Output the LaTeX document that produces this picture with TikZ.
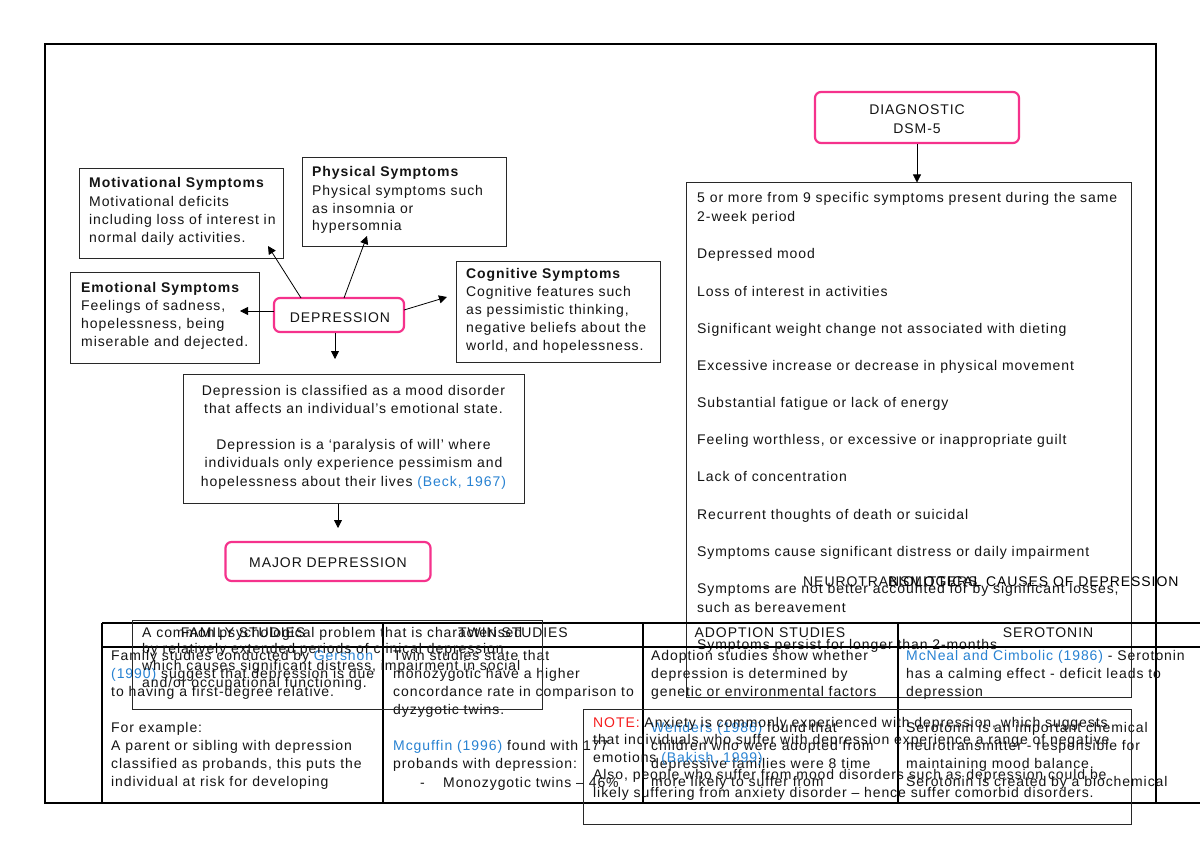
\documentclass[tikz,border=0pt]{standalone}
\usepackage{fontspec}
\setmainfont{Liberation Sans}[LetterSpace=6.6]
\usetikzlibrary{arrows.meta}
\definecolor{pinkc}{RGB}{245,50,140}
\definecolor{bluec}{RGB}{40,130,210}
\definecolor{redc}{RGB}{245,30,30}
\definecolor{txt}{RGB}{20,20,20}
\definecolor{edge}{RGB}{40,40,40}
\newcommand{\bl}[1]{\textcolor{bluec}{#1}}
\newcommand{\lft}[1]{\begin{tabular}[t]{@{}l@{}}#1\end{tabular}}
\newcommand{\ctr}[1]{\begin{tabular}[t]{@{}c@{}}#1\end{tabular}}
\tikzset{
  txl/.style={inner sep=0pt, anchor=base west, text=txt, font=\fontsize{14}{18.1}\selectfont},
  txc/.style={inner sep=0pt, anchor=base, text=txt, font=\fontsize{14}{18.1}\selectfont},
  plainbox/.style={draw=edge, line width=1pt, inner sep=0pt},
  pinkbox/.style={draw=pinkc, line width=2.2pt, rounded corners=6pt, inner sep=0pt},
  arr/.style={draw=black, line width=0.8pt, -{Triangle[length=8pt,width=8pt]}},
  tline/.style={draw=black, line width=1.8pt},
}
\begin{document}
\begin{tikzpicture}[x=1pt,y=-1pt]
\useasboundingbox (0,0) rectangle (1200,848);
\fill[white] (0,0) rectangle (1200,848);

% outer frame
\draw[line width=1.8pt] (45,44) rectangle (1156,803);

% ---------- left concept map ----------
\node[plainbox, minimum width=204, minimum height=89] (motbox) at (181,213.5) {};
\node[txl, font=\fontsize{14}{18.3}\selectfont] (mottx) at (89,188) {\lft{\textbf{Motivational Symptoms}\\Motivational deficits\\including loss of interest in\\normal daily activities.}};

\node[plainbox, minimum width=204, minimum height=89] (phybox) at (404,202) {};
\node[txl, font=\fontsize{14}{18}\selectfont] (phytx) at (312,177) {\lft{\textbf{Physical Symptoms}\\Physical symptoms such\\as insomnia or\\hypersomnia}};

\node[plainbox, minimum width=189, minimum height=91] (emobox) at (164.5,317.5) {};
\node[txl, font=\fontsize{14}{18}\selectfont] (emotx) at (81,292) {\lft{\textbf{Emotional Symptoms}\\Feelings of sadness,\\hopelessness, being\\miserable and dejected.}};

\node[plainbox, minimum width=204, minimum height=101] (cogbox) at (558.5,311.5) {};
\node[txl, font=\fontsize{14}{18}\selectfont] (cogtx) at (466,278) {\lft{\textbf{Cognitive Symptoms}\\Cognitive features such\\as pessimistic thinking,\\negative beliefs about the\\world, and hopelessness.}};

\node[pinkbox, minimum width=130, minimum height=34] (dep) at (339,315) {};
\node[txc] (deptx) at (340,322) {DEPRESSION};

\coordinate (aemo) at (240,311);
\coordinate (amot) at (268,246);
\coordinate (aphy) at (367,236);
\coordinate (acog) at (447,297);
\coordinate (adown) at (335,359);
\coordinate (semo) at (274,311);
\coordinate (smot) at (301,298);
\coordinate (sphy) at (344,298);
\coordinate (scog) at (404,310);
\coordinate (sdown) at (335,333);
\draw[arr] (semo) -- (aemo);
\draw[arr] (smot) -- (amot);
\draw[arr] (sphy) -- (aphy);
\draw[arr] (scog) -- (acog);
\draw[arr] (sdown) -- (adown);

\node[plainbox, minimum width=341, minimum height=129] (defbox) at (353.5,438.5) {};
\node[txc, font=\fontsize{14}{18.2}\selectfont] (deftx) at (353.5,395) {\ctr{Depression is classified as a mood disorder\\that affects an individual's emotional state.\\ \\Depression is a ‘paralysis of will’ where\\individuals only experience pessimism and\\hopelessness about their lives \bl{(Beck, 1967)}}};

\node[pinkbox, minimum width=205, minimum height=39] (major) at (328,561.5) {};
\node[txc] (majortx) at (328,567) {MAJOR DEPRESSION};
\coordinate (mtop) at (338,528);
\draw[arr] (defbox.south -| mtop) -- (mtop);

% ---------- diagnostic ----------
\node[pinkbox, minimum width=204, minimum height=51] (diag) at (917,117.5) {};
\node[txc] (diagtx) at (917,115) {\ctr{DIAGNOSTIC\\DSM-5}};

\node[plainbox, minimum width=445, minimum height=514] (dsm) at (908.5,440) {};
\draw[arr] (diag.south) -- (dsm.north -| diag.south);
\node[txl, font=\fontsize{14}{18.6}\selectfont] (dsmtx) at (697,203) {\lft{5 or more from 9 specific symptoms present during the same\\2-week period\\ \\Depressed mood\\ \\Loss of interest in activities\\ \\Significant weight change not associated with dieting\\ \\Excessive increase or decrease in physical movement\\ \\Substantial fatigue or lack of energy\\ \\Feeling worthless, or excessive or inappropriate guilt\\ \\Lack of concentration\\ \\Recurrent thoughts of death or suicidal\\ \\Symptoms cause significant distress or daily impairment\\ \\Symptoms are not better accounted for by significant losses,\\such as bereavement\\ \\Symptoms persist for longer than 2-months}};

\node[txl] (neuro) at (803,586) {NEUROTRANSMITTERS};
\node[txl, text=black] (bio) at (888,586) {BIOLOGICAL CAUSES OF DEPRESSION};

% ---------- table ----------
\coordinate (tl) at (102,623);
\coordinate (tr) at (1200,623);
\coordinate (hl) at (102,647);
\coordinate (hr) at (1200,647);
\coordinate (bl) at (45,803);
\coordinate (br) at (1200,803);
\draw[tline] (tl) -- (tr);
\draw[tline] (hl) -- (hr);
\draw[tline] (bl) -- (br);
\draw[tline] (102,623) -- (102,803);
\draw[tline] (383,623) -- (383,803);
\draw[tline] (643,623) -- (643,803);
\draw[tline] (898,623) -- (898,803);

\node[txc] (h1) at (243,637) {FAMILY STUDIES};
\node[txc] (h2) at (513,637) {TWIN STUDIES};
\node[txc] (h3) at (770,637) {ADOPTION STUDIES};
\node[txc] (h4) at (1048,637) {SEROTONIN};

\node[txl] (c1) at (111,660) {\lft{Family studies conducted by \bl{Gershon}\\\bl{(1990)} suggest that depression is due\\to having a first-degree relative.\\ \\For example:\\A parent or sibling with depression\\classified as probands, this puts the\\individual at risk for developing}};
\node[txl] (c2) at (393,660) {\lft{Twin studies state that\\monozygotic have a higher\\concordance rate in comparison to\\dyzygotic twins.\\ \\\bl{Mcguffin (1996)} found with 177\\probands with depression:}};
\node[txl] (c2d) at (420,787) {-};
\node[txl] (c2m) at (443,787) {Monozygotic twins – 46\%};
\node[txl] (c3) at (651,660) {\lft{Adoption studies show whether\\depression is determined by\\genetic or environmental factors\\ \\\bl{Wenders (1986)} found that\\children who were adopted from\\depressive families were 8 time\\more likely to suffer from}};
\node[txl] (c4) at (906,660) {\lft{\bl{McNeal and Cimbolic (1986)} - Serotonin\\has a calming effect - deficit leads to\\depression\\ \\Serotonin is an important chemical\\neurotransmitter - responsible for\\maintaining mood balance.\\Serotonin is created by a biochemical}};

% ---------- overlapping boxes ----------
\node[plainbox, minimum width=410, minimum height=89] (common) at (337,664.5) {};
\node[txl, font=\fontsize{14}{16.7}\selectfont] (commontx) at (142,637) {\lft{A common psychological problem that is characterised\\by relatively extended periods of clinical depression\\which causes significant distress, impairment in social\\and/or occupational functioning.}};

\node[plainbox, minimum width=548, minimum height=115] (note) at (857,766.5) {};
\node[txl, font=\fontsize{14}{17.6}\selectfont] (notetx) at (593,727) {\lft{\textcolor{redc}{NOTE:} Anxiety is commonly experienced with depression, which suggests\\that individuals who suffer with depression experience a range of negative\\emotions \bl{(Bakish, 1999)}\\Also, people who suffer from mood disorders such as depression could be\\likely suffering from anxiety disorder – hence suffer comorbid disorders.}};
\end{tikzpicture}
\end{document}
